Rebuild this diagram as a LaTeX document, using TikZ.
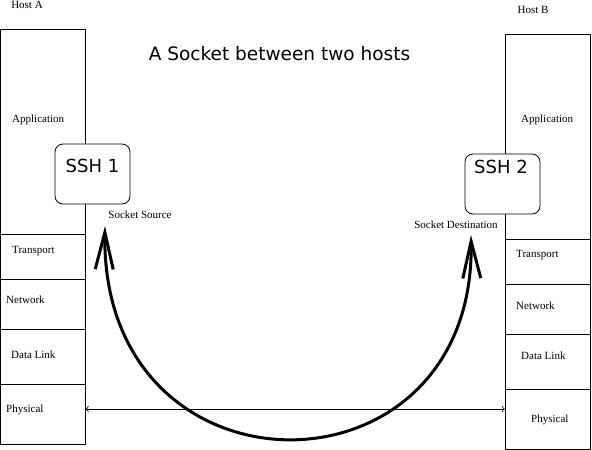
\documentclass[tikz,border=0pt]{standalone}
\usepackage{fontspec}
\setmainfont{Liberation Serif}
\newfontfamily\sshfont{DejaVu Sans}
\usetikzlibrary{arrows.meta}

\begin{document}
\begin{tikzpicture}[x=1pt, y=-1pt,
  layer/.style={draw, line width=.8pt, minimum width=85pt, inner sep=0pt},
  lbl/.style={font=\fontsize{11}{13}\selectfont, anchor=west, inner sep=0pt},
  sshbox/.style={draw, fill=white, line width=.8pt, rounded corners=8pt, minimum width=75pt, minimum height=60pt},
  sshtext/.style={font=\sshfont\fontsize{18}{20}\selectfont, inner sep=0pt},
  barb/.tip={Straight Barb[length=37pt, width=18pt]}]

\useasboundingbox (0,0) rectangle (592,450);

% title
\node[font=\sshfont\fontsize{18.5}{22}\selectfont, inner sep=0pt] (title) at (279.5,54) {A Socket between two hosts};

% host A stack
\node[lbl, anchor=center] (hostA) at (27,5) {Host A};
\node[layer, minimum height=205pt] (appA) at (42.75,131.5) {};
\node[layer, minimum height=45pt] (transA) at (42.75,256.5) {};
\node[layer, minimum height=50pt] (netA) at (42.75,304) {};
\node[layer, minimum height=55pt] (linkA) at (42.75,356.5) {};
\node[layer, minimum height=60pt] (physA) at (42.75,414) {};
\node[lbl] at (12,120) {Application};
\node[lbl] at (12,251) {Transport};
\node[lbl] at (6,300) {Network};
\node[lbl] at (11,355) {Data Link};
\node[lbl] at (6,410) {Physical};

% host B stack
\node[lbl, anchor=center] (hostB) at (533,10) {Host B};
\node[layer, minimum height=205pt] (appB) at (547.75,136.5) {};
\node[layer, minimum height=45pt] (transB) at (547.75,261.5) {};
\node[layer, minimum height=50pt] (netB) at (547.75,309) {};
\node[layer, minimum height=55pt] (linkB) at (547.75,361.5) {};
\node[layer, minimum height=60pt] (physB) at (547.75,419) {};
\node[lbl] at (521,120) {Application};
\node[lbl] at (516,255) {Transport};
\node[lbl] at (516,306) {Network};
\node[lbl] at (521,356) {Data Link};
\node[lbl] at (531,420) {Physical};

% ssh end points
\node[sshbox] (sshA) at (92.5,174) {};
\node[sshtext] at ([yshift=8pt]sshA.center) {SSH 1};
\node[sshbox] (sshB) at (502.5,184) {};
\node[sshtext] at ([xshift=-1.5pt, yshift=17.5pt]sshB.center) {SSH 2};
\node[lbl, anchor=center] (srcLabel) at (140,215) {Socket Source};
\node[lbl, anchor=center] (dstLabel) at (456,225) {Socket Destination};

% socket
\coordinate (srcTip) at (105,226);
\coordinate (dstTip) at (471,235);
\draw[line width=3pt, barb-barb] (srcTip) .. controls (100,507) and (476,507) .. (dstTip);

% physical link
\draw[line width=.6pt, {To[length=3pt]}-{To[length=3pt]}] ([yshift=5pt]physA.east) -- ([yshift=10pt]physB.west);

\end{tikzpicture}
\end{document}
